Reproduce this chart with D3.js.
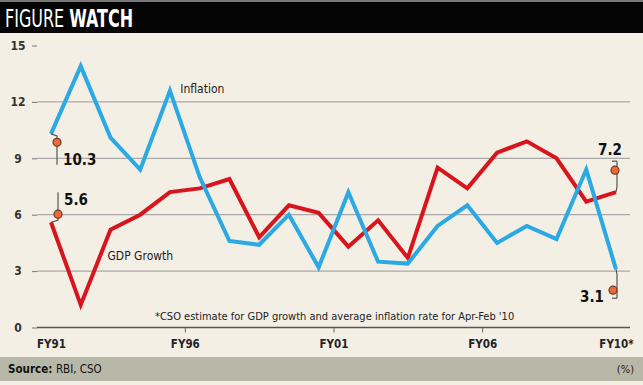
<!DOCTYPE html>
<html>
<head>
<meta charset="utf-8">
<script src="https://cdn.jsdelivr.net/npm/d3@7"></script>
<style>
body { margin: 0; background: #f4efe5; }
svg text { font-family: "Liberation Sans Narrow", "DejaVu Sans Condensed", sans-serif; font-stretch: condensed; }
</style>
</head>
<body>
<svg width="643" height="385"></svg>
<script>
// data
years = [1991, 1992, 1993, 1994, 1995, 1996, 1997, 1998, 1999, 2000,
         2001, 2002, 2003, 2004, 2005, 2006, 2007, 2008, 2009, 2010];
inflation = [10.3, 13.9, 10.1, 8.4, 12.6, 8.0, 4.6, 4.4, 6.0, 3.2,
             7.2, 3.5, 3.4, 5.4, 6.5, 4.5, 5.4, 4.7, 8.4, 3.1];
gdp = [5.6, 1.2, 5.2, 6.0, 7.2, 7.4, 7.9, 4.8, 6.5, 6.1,
       4.3, 5.7, 3.7, 8.5, 7.4, 9.3, 9.9, 9.0, 6.7, 7.2];
yTicks = [0, 3, 6, 9, 12, 15];
xTickYears = [1991, 1995.5, 2000.5, 2005.5, 2010];
xTickLabels = ['FY91', 'FY96', 'FY01', 'FY06', 'FY10*'];

svg = d3.select('svg');

// header bar
svg.append('rect').attr('x', 0).attr('y', 0).attr('width', 643).attr('height', 33).attr('fill', '#050505');
svg.append('rect').attr('x', 0).attr('y', 0).attr('width', 643).attr('height', 2).attr('fill', '#777');
// squeeze the title horizontally, the original face is very condensed
title = svg.append('text')
    .attr('transform', 'translate(5, 27) scale(0.74, 1)')
    .attr('fill', 'white')
    .style('font-size', '24px');
title.append('tspan').text('FIGURE ');
title.append('tspan').style('font-weight', 'bold').text('WATCH');

left = 37;
right = 630;
top = 44;
bottom = 327.5;

x = d3.scaleLinear().domain([1991, 2010]).range([51, 616]);
y = d3.scaleLinear().domain([0, 15]).range([bottom, bottom - 15 * 18.8]);

// white plot area
svg.append('rect')
    .attr('x', left).attr('y', top)
    .attr('width', right - left).attr('height', bottom - top)
    .attr('fill', 'white');

// grid lines
svg.append('g')
    .selectAll('line')
    .data(yTicks.filter(d => d > 0 && d < 15))
    .enter()
    .append('line')
    .attr('x1', left).attr('x2', right)
    .attr('y1', d => y(d)).attr('y2', d => y(d))
    .attr('stroke', '#a9a9a9')
    .attr('stroke-width', 1.2);

// y axis
yAxis = svg.append('g')
    .attr('transform', `translate(${left}, 0)`)
    .call(d3.axisLeft(y).tickValues(yTicks).tickSize(5).tickPadding(0));
yAxis.select('.domain').attr('stroke', '#555').attr('stroke-width', 1.5).attr('d', `M0,${top}V${bottom}`);
yAxis.selectAll('.tick line').attr('stroke', '#777');
yAxis.selectAll('.tick text')
    .attr('x', -19)
    .attr('text-anchor', 'middle')
    .attr('fill', '#333')
    .style('font-size', '12px')
    .style('font-weight', 'bold');

// x axis
xAxis = svg.append('g')
    .attr('transform', `translate(0, ${bottom})`)
    .call(d3.axisBottom(x).tickValues(xTickYears).tickFormat((d, i) => xTickLabels[i]).tickSize(5).tickPadding(7));
xAxis.select('.domain').attr('stroke', '#555').attr('stroke-width', 1.5).attr('d', `M${left},0H${right}`);
xAxis.selectAll('.tick line').attr('stroke', '#666').attr('opacity', (d, i) => (i == 0 || i == xTickYears.length - 1) ? 0 : 1);
xAxis.selectAll('.tick text')
    .attr('fill', '#222')
    .style('font-size', '11.5px')
    .style('font-weight', 'bold');

line = d3.line()
    .x((d, i) => x(years[i]))
    .y(d => y(d));

svg.append('path')
    .datum(gdp)
    .attr('d', line)
    .attr('fill', 'none')
    .attr('stroke', '#d8141c')
    .attr('stroke-width', 4)
    .attr('stroke-linejoin', 'miter');

svg.append('path')
    .datum(inflation)
    .attr('d', line)
    .attr('fill', 'none')
    .attr('stroke', '#2aa9e4')
    .attr('stroke-width', 4)
    .attr('stroke-linejoin', 'miter');

// series labels
svg.append('text').attr('x', x(1994) + 40).attr('y', y(12.6) + 2)
    .attr('fill', '#222').style('font-size', '12px').text('Inflation');
svg.append('text').attr('x', x(1993) - 3).attr('y', y(3.6))
    .attr('fill', '#222').style('font-size', '12px').text('GDP Growth');

// footnote
svg.append('text').attr('x', 155).attr('y', 320)
    .attr('fill', '#222').style('font-size', '11px')
    .text("*CSO estimate for GDP growth and average inflation rate for Apr-Feb '10");

// end-point callouts: mx/my marker offset from the data point, stem = far end of the stem
callouts = [
    {v: inflation[0], yr: years[0], label: '10.3', mx: 6, my: 8.5, stem: 31, lx: 12, lyOff: 31},
    {v: gdp[0], yr: years[0], label: '5.6', mx: 7, my: -8, stem: -30, lx: 13, lyOff: -17},
    {v: gdp[19], yr: years[19], label: '7.2', mx: -1, my: -22, stem: -31, lx: -18, lyOff: -37},
    {v: inflation[19], yr: years[19], label: '3.1', mx: -3, my: 21, stem: 29, lx: -36, lyOff: 33}
];

callouts.forEach(c => {
    px = x(c.yr);
    py = y(c.v);
    g = svg.append('g');
    sx = px + (c.mx > 0 ? c.mx : 1);
    g.append('path')
        .attr('d', `M${px},${py}L${sx},${py + c.my * 0.25}L${sx},${py + c.stem}`)
        .attr('fill', 'none')
        .attr('stroke', '#555')
        .attr('stroke-width', 1.2);
    g.append('line')
        .attr('x1', sx - 5).attr('x2', sx)
        .attr('y1', py + c.stem).attr('y2', py + c.stem)
        .attr('stroke', '#555').attr('stroke-width', 1.2)
        .attr('opacity', c.mx < 0 ? 1 : 0);
    g.append('circle')
        .attr('cx', px + c.mx).attr('cy', py + c.my)
        .attr('r', 4)
        .attr('fill', '#ee6a3a')
        .attr('stroke', '#6b3a22')
        .attr('stroke-width', 1.2);
    g.append('text')
        .attr('x', px + c.lx).attr('y', py + c.lyOff)
        .attr('fill', '#111')
        .style('font-size', '15px')
        .style('font-weight', 'bold')
        .text(c.label);
});

// source bar
svg.append('rect').attr('x', 0).attr('y', 357).attr('width', 643).attr('height', 24).attr('fill', '#b8b8a8');
src = svg.append('text').attr('x', 8).attr('y', 373).attr('fill', '#111').style('font-size', '11.5px');
src.append('tspan').style('font-weight', 'bold').text('Source: ');
src.append('tspan').text('RBI, CSO');
svg.append('text').attr('x', 634).attr('y', 373).attr('text-anchor', 'end')
    .attr('fill', '#222').style('font-size', '11px').text('(%)');
</script>
</body>
</html>
